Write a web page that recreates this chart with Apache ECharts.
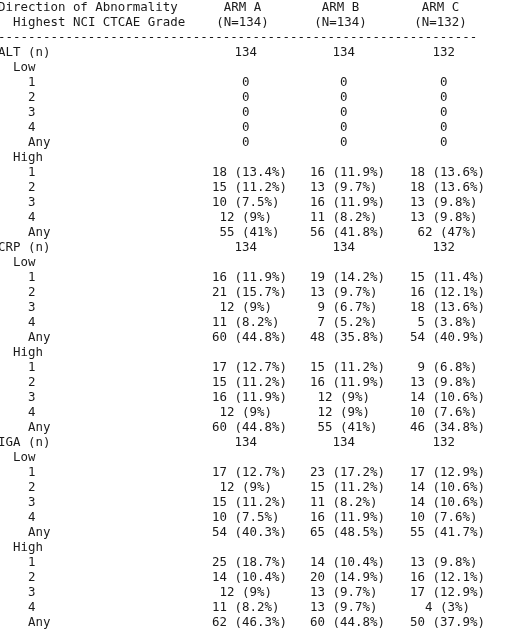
<!DOCTYPE html>
<html>
<head>
<meta charset="utf-8">
<script src="https://cdn.jsdelivr.net/npm/echarts@6/dist/echarts.min.js"></script>
<style>html,body{margin:0;padding:0;background:#fff}#main{width:530px;height:632px}</style>
</head>
<body>
<div id="main"></div>
<script>
// table data
var arms = ['ARM A', 'ARM B', 'ARM C'];
var armN = [134, 134, 132];
var params = ['ALT', 'CRP', 'IGA'];
var grades = ['1', '2', '3', '4', 'Any'];
// counts per param, direction, arm: grades 1..4 then Any
var altLow = [[0, 0, 0, 0, 0], [0, 0, 0, 0, 0], [0, 0, 0, 0, 0]];
var altHigh = [[18, 15, 10, 12, 55], [16, 13, 16, 11, 56], [18, 18, 13, 13, 62]];
var crpLow = [[16, 21, 12, 11, 60], [19, 13, 9, 7, 48], [15, 16, 18, 5, 54]];
var crpHigh = [[17, 15, 16, 12, 60], [15, 16, 12, 12, 55], [9, 13, 14, 10, 46]];
var igaLow = [[17, 12, 15, 10, 54], [23, 15, 11, 16, 65], [17, 14, 14, 10, 55]];
var igaHigh = [[25, 14, 12, 11, 62], [14, 20, 13, 13, 60], [13, 16, 17, 4, 50]];
var lowData = [altLow, crpLow, igaLow];
var highData = [altHigh, crpHigh, igaHigh];

var cw = 7.5;           // monospace char width
var x0 = -2;
var fieldLeft = [204.5, 302.5, 402.5];
var rowH = 15, firstRow = 53;
var font = '12.45px "DejaVu Sans Mono", "Liberation Mono", monospace';
var color = '#1a1a1a';

function cell(v, n) {
  if (v === 0) return '0';
  var p = (v / n * 100).toFixed(1).replace(/\.0$/, '');
  return v + ' (' + p + '%)';
}

var els = [];
function txt(s, x, y, align) {
  els.push({ type: 'text', x: x, y: y, style: { text: s, font: font, fill: color, textAlign: align || 'left', textVerticalAlign: 'middle' } });
}
function fieldText(s, a, y) {
  txt(s, fieldLeft[a] + Math.floor((12 - s.length) / 2) * cw, y);
}

// header
txt('Direction of Abnormality', x0, 8);
txt('Highest NCI CTCAE Grade', x0 + 2 * cw, 23);
arms.forEach(function (a, i) {
  txt(a, fieldLeft[i] + 38, 8, 'center');
  txt('(N=' + armN[i] + ')', fieldLeft[i] + 38, 23, 'center');
});
txt(new Array(65).join('-'), x0, 38);

var r = 0;
params.forEach(function (p, pi) {
  var y = firstRow + r * rowH;
  txt(p + ' (n)', x0, y);
  armN.forEach(function (n, a) { fieldText(String(n), a, y); });
  r++;
  [['Low', lowData[pi]], ['High', highData[pi]]].forEach(function (d) {
    txt(d[0], x0 + 2 * cw, firstRow + r * rowH);
    r++;
    grades.forEach(function (g, gi) {
      var yy = firstRow + r * rowH;
      txt(g, x0 + 4 * cw, yy);
      for (var a = 0; a < 3; a++) fieldText(cell(d[1][a][gi], armN[a]), a, yy);
      r++;
    });
  });
});

var chart = echarts.init(document.getElementById('main'));
chart.setOption({ animation: false, graphic: { elements: els } });
</script>
</body>
</html>
